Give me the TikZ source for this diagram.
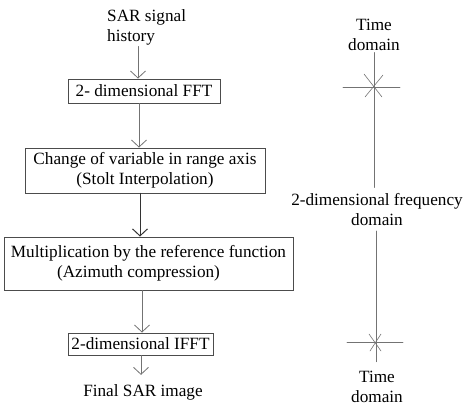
\documentclass[tikz,border=0pt]{standalone}
\usepackage{fontspec}
\setmainfont{Liberation Serif}
\usetikzlibrary{arrows.meta}

\begin{document}
\begin{tikzpicture}[x=1pt,y=-1pt,line cap=round]
	\tikzstyle{txt}=[inner sep=0pt,align=center,font=\fontsize{17.2}{20}\selectfont];
	\tikzstyle{stepbox}=[txt,draw=black!70,line width=0.9pt];
	\tikzstyle{arr}=[draw=black!55,line width=0.8pt,-{Straight Barb[length=7pt,width=15pt]}];
	\tikzstyle{axis}=[draw=black!55,line width=0.9pt];
	\useasboundingbox (0,0) rectangle (474,408);

	\node[txt,align=left,anchor=north west] (src) at (107,9.4) {SAR signal\\history};
	\node[stepbox,minimum width=152pt,minimum height=24pt] (fft) at (144,91) {2- dimensional FFT};
	\node[stepbox,minimum width=240pt,minimum height=45pt] (stolt) at (145,170.5) {Change of variable in range axis\\(Stolt Interpolation)};
	\node[stepbox,minimum width=289pt,minimum height=53pt] (azi) at (148.5,263.5) {Multiplication by the reference function\\\hspace*{-20pt}(Azimuth compression)};
	\node[stepbox,minimum width=145pt,minimum height=22pt] (ifft) at (140.5,344) {2-dimensional IFFT};
	\node[txt,anchor=base] (img) at (143,396) {Final SAR image};

	\draw[arr,shorten <=1pt] (src.south -| 138,0) -- (fft.north -| 138,0);
	\draw[arr] (fft.south -| 139,0) -- (stolt.north -| 139,0);
	\draw[arr,draw=black!80,line width=1pt] (stolt.south -| 140,0) -- (azi.north -| 140,0);
	\draw[arr] (azi.south -| 142,0) -- (ifft.north -| 142,0);
	\draw[arr,shorten >=9pt] (ifft.south -| 141,0) -- (img.north -| 141,0);

	% domains
	\node[txt,anchor=north] (ttop) at (374,18.7) {Time\\domain};
	\node[txt,anchor=north] (freq) at (377,193.4) {2-dimensional frequency\\domain};
	\node[txt,anchor=north] (tbot) at (377,370.7) {Time\\domain};
	\coordinate (s1) at (374,87);
	\coordinate (s2) at (376,342);

	\draw[axis,shorten <=2pt,shorten >=6pt] (ttop.south -| s1) -- (freq.north -| s1);
	\draw[axis,shorten <=5pt,shorten >=9pt] (freq.south -| s2) -- (tbot.north -| s2);
	\draw[axis] (s1) ++(-31,0) -- ++(57,0);
	\draw[axis,line width=0.6pt] (s1) ++(-10,-13) -- ++(18,23);
	\draw[axis,line width=0.6pt] (s1) ++(9,-12) -- ++(-18,22);
	\draw[axis] (s2) ++(-29,0) -- ++(56,0);
	\draw[axis,line width=0.6pt] (s2) ++(-7,-8) -- ++(12,17);
	\draw[axis,line width=0.6pt] (s2) ++(5,-8) -- ++(-11,17);
\end{tikzpicture}
\end{document}
